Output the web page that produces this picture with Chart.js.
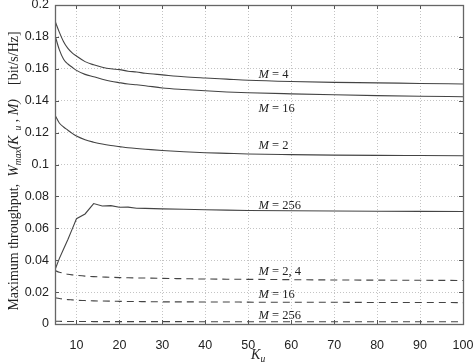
<!DOCTYPE html>
<html>
<head>
<meta charset="utf-8">
<script src="https://cdn.jsdelivr.net/npm/chart.js@4.4.0/dist/chart.umd.min.js"></script>
<style>
  html, body { margin: 0; padding: 0; background: #fff; }
  #wrap { width: 474px; height: 363px; }
</style>
</head>
<body>
<div id="wrap"><canvas id="throughputChart"></canvas></div>
<script>
// K_u values sampled along the x axis
const kValues = [5, 6, 7, 8, 9, 10, 12, 14, 16, 18, 20, 22, 24, 26, 30, 35, 40, 45, 50, 60, 70, 80, 90, 100];

// solid curves
const solidM4 = [0.190, 0.183, 0.177, 0.1728, 0.170, 0.168, 0.1645, 0.1625, 0.161, 0.160, 0.1595, 0.1585, 0.158, 0.1572, 0.1562, 0.155, 0.1542, 0.1535, 0.1528, 0.152, 0.1515, 0.1512, 0.1508, 0.1505];
const solidM16 = [0.181, 0.172, 0.166, 0.163, 0.161, 0.159, 0.1565, 0.155, 0.1535, 0.1522, 0.1513, 0.1505, 0.150, 0.1494, 0.148, 0.147, 0.1462, 0.1455, 0.145, 0.1443, 0.1437, 0.1432, 0.1428, 0.1425];
const solidM2 = [0.131, 0.126, 0.1235, 0.1215, 0.1195, 0.1178, 0.1155, 0.114, 0.1128, 0.1119, 0.1112, 0.1105, 0.110, 0.1096, 0.1088, 0.108, 0.1074, 0.107, 0.1066, 0.1062, 0.1059, 0.1057, 0.1056, 0.1055];
const solidM256 = [0.034, 0.041, 0.047, 0.053, 0.0595, 0.066, 0.069, 0.0755, 0.074, 0.0742, 0.0732, 0.0733, 0.0726, 0.0725, 0.0722, 0.0719, 0.0716, 0.0714, 0.0712, 0.071, 0.0708, 0.0707, 0.0706, 0.0705];

// dashed curves
const dashedM24 = [0.0335, 0.0325, 0.0318, 0.0312, 0.0308, 0.0305, 0.030, 0.0297, 0.0295, 0.0293, 0.0291, 0.029, 0.0289, 0.0288, 0.0286, 0.0284, 0.0282, 0.0281, 0.028, 0.0278, 0.0276, 0.0275, 0.0274, 0.0273];
const dashedM16 = [0.0165, 0.016, 0.0156, 0.0153, 0.0151, 0.0149, 0.0147, 0.0145, 0.0144, 0.0143, 0.0142, 0.0141, 0.0141, 0.014, 0.0139, 0.0139, 0.0138, 0.0138, 0.0137, 0.0136, 0.0136, 0.0135, 0.0135, 0.0134];
const dashedM256 = [0.0017, 0.0017, 0.0016, 0.0016, 0.0016, 0.0016, 0.0016, 0.0015, 0.0015, 0.0015, 0.0015, 0.0015, 0.0015, 0.0015, 0.0015, 0.0015, 0.0014, 0.0014, 0.0014, 0.0014, 0.0014, 0.0014, 0.0014, 0.0014];

const xTicks = [10, 20, 30, 40, 50, 60, 70, 80, 90, 100];
const yTicks = [0, 0.02, 0.04, 0.06, 0.08, 0.1, 0.12, 0.14, 0.16, 0.18, 0.2];

// curve labels: [M value text, K position of left edge, y value of text centre]
const curveLabels = [
    ['4', 52.4, 0.156],
    ['16', 52.4, 0.135],
    ['2', 52.4, 0.112],
    ['256', 52.4, 0.0744],
    ['2, 4', 52.4, 0.0327],
    ['16', 52.4, 0.0182],
    ['256', 52.4, 0.0049]
];

const SERIF = '"Liberation Serif", "DejaVu Serif", serif';
const SANS = '"Liberation Sans", Arial, sans-serif';
const LINE_COLOR = '#444';

function toPoints(values) {
    return values.map((v, i) => ({ x: kValues[i], y: v }));
}

function makeSet(values, dashed, straight) {
    return {
        data: toPoints(values),
        borderColor: LINE_COLOR,
        borderWidth: 1.1,
        borderDash: dashed ? [7, 5] : [],
        pointRadius: 0,
        cubicInterpolationMode: straight ? 'default' : 'monotone',
        tension: 0,
        fill: false
    };
}

// draw a run of text pieces with mixed fonts / subscripts
function drawRich(ctx, parts, x, y) {
    let total = 0;
    parts.forEach(p => { ctx.font = p.font; total += ctx.measureText(p.t).width; });
    let cx = x - total / 2;
    parts.forEach(p => {
        ctx.font = p.font;
        ctx.fillText(p.t, cx, y + (p.dy || 0));
        cx += ctx.measureText(p.t).width;
    });
}

const decorPlugin = {
    id: 'decor',
    afterDraw(chart) {
        const ctx = chart.ctx;
        const area = chart.chartArea;
        const xs = chart.scales.x;
        const ys = chart.scales.y;
        ctx.save();

        // inward ticks on all four sides
        ctx.strokeStyle = '#555';
        ctx.lineWidth = 1;
        const tl = 4;
        ctx.beginPath();
        xTicks.forEach(v => {
            const px = Math.round(xs.getPixelForValue(v)) + 0.5;
            ctx.moveTo(px, area.bottom); ctx.lineTo(px, area.bottom - tl);
            ctx.moveTo(px, area.top); ctx.lineTo(px, area.top + tl);
        });
        yTicks.forEach(v => {
            const py = Math.round(ys.getPixelForValue(v)) + 0.5;
            ctx.moveTo(area.left, py); ctx.lineTo(area.left + tl, py);
            ctx.moveTo(area.right, py); ctx.lineTo(area.right - tl, py);
        });
        ctx.stroke();

        // frame
        ctx.strokeStyle = '#666';
        ctx.lineWidth = 1.3;
        ctx.strokeRect(Math.round(area.left) + 0.5, Math.round(area.top) + 0.5,
            Math.round(area.right - area.left), Math.round(area.bottom - area.top));

        // curve labels
        ctx.fillStyle = '#222';
        ctx.textBaseline = 'middle';
        ctx.textAlign = 'left';
        curveLabels.forEach(([m, k, v]) => {
            let x = xs.getPixelForValue(k);
            const y = ys.getPixelForValue(v);
            ctx.font = 'italic 12.5px ' + SERIF;
            ctx.fillText('M', x, y);
            x += ctx.measureText('M').width;
            ctx.font = '12.5px ' + SERIF;
            ctx.fillText(' = ' + m, x, y);
        });

        // x axis title
        const it = 'italic 14px ' + SERIF;
        const sub = 'italic 9.5px ' + SERIF;
        drawRich(ctx, [{ t: 'K', font: it }, { t: 'u', font: sub, dy: 4 }], xs.getPixelForValue(52.3), 355);

        // y axis title (rotated)
        ctx.translate(14, 171);
        ctx.rotate(-Math.PI / 2);
        const rg = '14px ' + SERIF;
        drawRich(ctx, [
            { t: 'Maximum throughput,  ', font: rg },
            { t: 'W', font: it },
            { t: 'max', font: sub, dy: 4 },
            { t: '(', font: it },
            { t: 'K', font: it },
            { t: '  u', font: sub, dy: 4 },
            { t: ' , ', font: it },
            { t: 'M', font: it },
            { t: ')', font: it },
            { t: '    [bit/s/Hz]', font: rg }
        ], 0, 0);
        ctx.restore();
    }
};

const ctx = document.getElementById('throughputChart').getContext('2d');
const chart = new Chart(ctx, {
    type: 'line',
    data: {
        datasets: [
            makeSet(solidM4, false),
            makeSet(solidM16, false),
            makeSet(solidM2, false),
            makeSet(solidM256, false, true),
            makeSet(dashedM24, true),
            makeSet(dashedM16, true),
            makeSet(dashedM256, true)
        ]
    },
    options: {
        responsive: true,
        maintainAspectRatio: false,
        animation: false,
        layout: { padding: { left: 0, right: 11, top: 5, bottom: 0 } },
        plugins: {
            legend: { display: false },
            tooltip: { enabled: false }
        },
        scales: {
            x: {
                type: 'linear',
                min: 5,
                max: 100,
                afterBuildTicks: s => { s.ticks = xTicks.map(v => ({ value: v })); },
                afterFit: s => { s.height = 39; s.paddingLeft = 0; s.paddingRight = 0; },
                grid: { color: '#c4c4c4', drawTicks: false },
                border: { display: false, dash: [1, 2] },
                ticks: {
                    color: '#222',
                    padding: 14,
                    maxRotation: 0,
                    font: { family: SANS, size: 12.5 }
                }
            },
            y: {
                min: 0,
                max: 0.2,
                afterBuildTicks: s => { s.ticks = yTicks.map(v => ({ value: v })); },
                afterFit: s => { s.width = 55; s.paddingTop = 0; s.paddingBottom = 0; },
                grid: { color: '#c4c4c4', drawTicks: false },
                border: { display: false, dash: [1, 2] },
                ticks: {
                    color: '#222',
                    padding: 6,
                    font: { family: SANS, size: 12.5 },
                    callback: v => String(+v.toFixed(2))
                }
            }
        }
    },
    plugins: [decorPlugin]
});
</script>
</body>
</html>
